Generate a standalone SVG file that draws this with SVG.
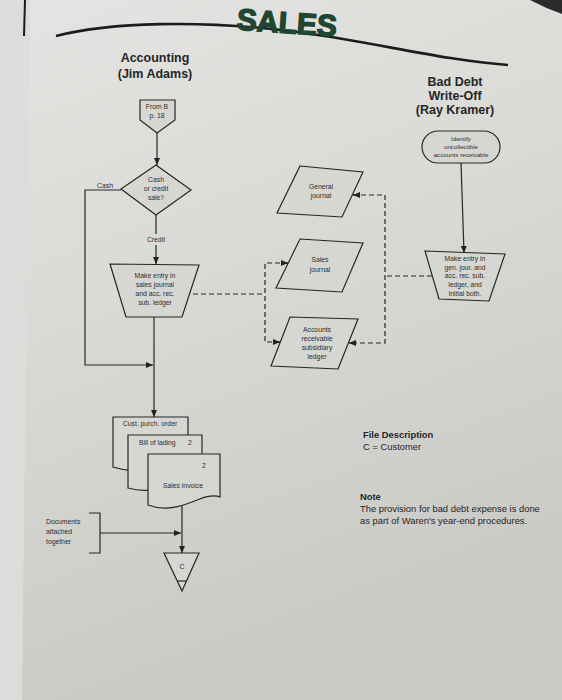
<svg xmlns="http://www.w3.org/2000/svg" width="562" height="700" viewBox="0 0 562 700">
<defs>
<linearGradient id="bg" x1="0" y1="0" x2="0.3" y2="1">
<stop offset="0" stop-color="#e4e4e2"/>
<stop offset="0.5" stop-color="#d8d8d5"/>
<stop offset="1" stop-color="#c9c9c5"/>
</linearGradient>
<marker id="ah" markerUnits="userSpaceOnUse" markerWidth="8" markerHeight="6" refX="7" refY="3" orient="auto">
<path d="M0,0 L7,3 L0,6 z" fill="#222"/>
</marker>
<style>
.sh{fill:#d6d6d2;stroke:#262626;stroke-width:1.2}
.ln{fill:none;stroke:#262626;stroke-width:1.2}
.ds{fill:none;stroke:#262626;stroke-width:1.2;stroke-dasharray:5,3}
.t{font-family:"Liberation Sans",Arial,sans-serif;font-size:6.8px;fill:#2e2e2e;text-anchor:middle}
.hd{font-family:"Liberation Sans",Arial,sans-serif;font-size:12.5px;font-weight:bold;fill:#262626;text-anchor:middle}
.nt{font-family:"Liberation Sans",Arial,sans-serif;font-size:9.4px;fill:#262626}
.ttl{font-family:"Liberation Sans",Arial,sans-serif;font-size:30px;font-weight:bold;fill:#1e4630;stroke:#1e4630;stroke-width:1.4;text-anchor:middle}
</style>
</defs>
<rect x="0" y="0" width="562" height="700" fill="url(#bg)"/>
<path d="M0,0 H30 L22,700 H0 Z" fill="#dcdcda"/>
<line x1="25" y1="0" x2="24" y2="36" stroke="#1a1a1a" stroke-width="2"/>
<path d="M530,0 H562 V14 Q545,8 530,0 Z" fill="#2a2a2a"/>

<g id="title">
<path d="M56,36 C110,22 200,20 290,31 C370,41 440,60 508,65" fill="none" stroke="#1c1c1c" stroke-width="2.6"/>
<text class="ttl" x="287" y="33" transform="rotate(4 287 22)">SALES</text>
</g>

<g id="hdr-accounting">
<text class="hd" x="155" y="62">Accounting</text>
<text class="hd" x="155" y="78">(Jim Adams)</text>
</g>
<g id="hdr-baddebt">
<text class="hd" x="455" y="86">Bad Debt</text>
<text class="hd" x="455" y="100">Write-Off</text>
<text class="hd" x="455" y="114">(Ray Kramer)</text>
</g>

<g id="connectors">
<line class="ln" x1="157" y1="133" x2="157" y2="165" marker-end="url(#ah)"/>
<line class="ln" x1="156" y1="215" x2="156" y2="234"/>
<line class="ln" x1="156" y1="245" x2="156" y2="264" marker-end="url(#ah)"/>
<polyline class="ln" points="121,190 85,190 85,365 153,365" marker-end="url(#ah)"/>
<line class="ln" x1="154" y1="317" x2="154" y2="417" marker-end="url(#ah)"/>
<line class="ds" x1="193" y1="294" x2="265" y2="294"/>
<polyline class="ds" points="288,263 265,263 265,342 280,342"/>
<line class="ln" x1="282" y1="263" x2="288" y2="263" marker-end="url(#ah)"/>
<line class="ln" x1="274" y1="342" x2="280" y2="342" marker-end="url(#ah)"/>
<line class="ds" x1="432" y1="276" x2="385" y2="276"/>
<polyline class="ds" points="353,195 385,195 385,343 349,343"/>
<line class="ln" x1="359" y1="195" x2="353" y2="195" marker-end="url(#ah)"/>
<line class="ln" x1="355" y1="343" x2="349" y2="343" marker-end="url(#ah)"/>
<line class="ln" x1="461" y1="163" x2="464" y2="253" marker-end="url(#ah)"/>
<line class="ln" x1="182" y1="505" x2="182" y2="553" marker-end="url(#ah)"/>
<polyline class="ln" points="89,513 100,513 100,553 89,553"/>
<line class="ln" x1="100" y1="533" x2="181" y2="533" marker-end="url(#ah)"/>
<text class="t" x="105" y="188">Cash</text>
<text class="t" x="156" y="242">Credit</text>
</g>

<g id="from-b">
<polygon class="sh" points="140,100 175,100 175,120 157,133 140,120"/>
<text class="t" x="157" y="109">From B</text>
<text class="t" x="157" y="118">p. 18</text>
</g>

<g id="decision">
<polygon class="sh" points="156,165 191,190 156,215 121,189"/>
<text class="t" x="156" y="182">Cash</text>
<text class="t" x="156" y="191">or credit</text>
<text class="t" x="156" y="200">sale?</text>
</g>

<g id="entry-sales">
<polygon class="sh" points="110,264 199,265 182,317 126,317"/>
<text class="t" x="155" y="278">Make entry in</text>
<text class="t" x="155" y="287">sales journal</text>
<text class="t" x="155" y="296">and acc. rec.</text>
<text class="t" x="155" y="305">sub. ledger</text>
</g>

<g id="general-journal">
<polygon class="sh" points="300,166 363,172 342,217 277,213"/>
<text class="t" x="321" y="189">General</text>
<text class="t" x="321" y="198">journal</text>
</g>
<g id="sales-journal">
<polygon class="sh" points="300,239 363,243 342,292 276,288"/>
<text class="t" x="320" y="262">Sales</text>
<text class="t" x="320" y="272">journal</text>
</g>
<g id="ar-ledger">
<polygon class="sh" points="290,317 358,319 338,369 271,366"/>
<text class="t" x="317" y="332">Accounts</text>
<text class="t" x="317" y="341">receivable</text>
<text class="t" x="317" y="350">subsidiary</text>
<text class="t" x="317" y="359">ledger</text>
</g>

<g id="identify">
<rect class="sh" x="422" y="131" width="78" height="32" rx="16" ry="16"/>
<text class="t" x="461" y="141" style="font-size:6.2px">Identify</text>
<text class="t" x="461" y="149" style="font-size:6.2px">uncollectible</text>
<text class="t" x="461" y="157" style="font-size:6.2px">accounts receivable</text>
</g>

<g id="entry-baddebt">
<polygon class="sh" points="425,251 505,254 489,301 439,299"/>
<text class="t" x="465" y="261">Make entry in</text>
<text class="t" x="465" y="270">gen. jour. and</text>
<text class="t" x="465" y="278">acc. rec. sub.</text>
<text class="t" x="465" y="287">ledger, and</text>
<text class="t" x="465" y="296">initial both.</text>
</g>

<g id="documents">
<path class="sh" d="M113,417 H188 V462 C171,454 148,479 113,467 Z"/>
<text class="t" x="150" y="426">Cust. purch. order</text>
<path class="sh" d="M128,435 H202 V481 C185,473 162,498 128,488 Z"/>
<text class="t" x="139" y="445" style="text-anchor:start">Bill of lading</text>
<text class="t" x="190" y="445">2</text>
<path class="sh" d="M148,454 H220 V497 C203,490 180,517 148,505 Z"/>
<text class="t" x="204" y="468">2</text>
<text class="t" x="183" y="488">Sales invoice</text>
</g>

<g id="customer-file">
<polygon class="sh" points="164,553 199,553 182,591"/>
<line class="ln" x1="177.3" y1="581" x2="186.5" y2="581"/>
<text class="t" x="182" y="569">C</text>
</g>

<g id="docs-note">
<text class="t" x="46" y="524" style="text-anchor:start">Documents</text>
<text class="t" x="46" y="534" style="text-anchor:start">attached</text>
<text class="t" x="46" y="544" style="text-anchor:start">together</text>
</g>

<g id="file-description">
<text class="nt" x="363" y="438" font-weight="bold">File Description</text>
<text class="nt" x="363" y="450">C = Customer</text>
</g>
<g id="note">
<text class="nt" x="360" y="500" font-weight="bold">Note</text>
<text class="nt" x="360" y="512">The provision for bad debt expense is done</text>
<text class="nt" x="360" y="524">as part of Waren's year-end procedures.</text>
</g>
</svg>
